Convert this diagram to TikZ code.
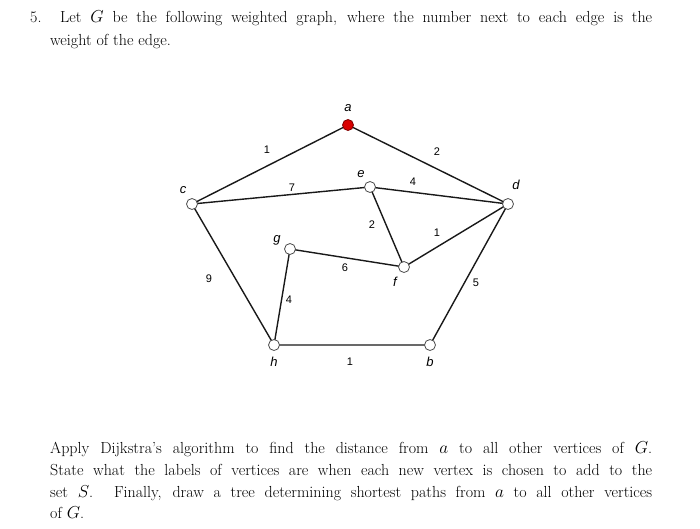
\documentclass[tikz,border=0pt]{standalone}
\usepackage{fontspec}
\newfontfamily\gsans{Liberation Sans}
\begin{document}
\begin{tikzpicture}[x=1pt,y=-1pt,
  vtx/.style={circle,draw=black!70,fill=white,line width=0.8pt,minimum size=11pt,inner sep=0pt},
  edge/.style={line width=1.4pt,black!90},
  wt/.style={font=\gsans\fontsize{11}{12}\selectfont},
  vl/.style={font=\gsans\itshape\fontsize{13}{14}\selectfont},
  tl/.style={anchor=base west,inner sep=0pt,font=\fontsize{16}{22}\selectfont}]
\useasboundingbox (0,0) rectangle (700,528);
\node[tl] (t1) at (30,22) {\makebox[622pt][s]{5. Let $G$ be the following weighted graph, where the number next to each edge is the}};
\node[tl] (t2) at (50,45) {weight of the edge.};
\node[tl] (b1) at (50,453) {\makebox[602pt][s]{Apply Dijkstra's algorithm to find the distance from $a$ to all other vertices of $G$.}};
\node[tl] (b2) at (50,475) {\makebox[602pt][s]{State what the labels of vertices are when each new vertex is chosen to add to the}};
\node[tl] (b3) at (50,497) {\makebox[602pt][s]{set $S$. Finally, draw a tree determining shortest paths from $a$ to all other vertices}};
\node[tl] (b4) at (50,518) {of $G$.};
\coordinate (pa) at (348,125); \coordinate (pc) at (192,204); \coordinate (pe) at (370,187);
\coordinate (pd) at (508,204); \coordinate (pg) at (290,249); \coordinate (pf) at (404,267);
\coordinate (ph) at (274,345); \coordinate (pb) at (430,345);
\draw[edge] (pa)--(pc) (pa)--(pd) (pc)--(pe) (pe)--(pd) (pe)--(pf) (pf)--(pd) (pg)--(pf)
  (pc)--(ph) (pg)--(ph) (pd)--(pb) (ph)--(pb);
\node[vtx,fill=red!85!black,draw=red!50!black] (a) at (pa) {};
\foreach \n in {c,e,d,g,f,h,b} {\node[vtx] (\n) at (p\n) {};}
\node[vl] (la) at (348,108) {a}; \node[vl] (lc) at (183,190) {c};
\node[vl] (le) at (361,174) {e}; \node[vl] (ld) at (516,185) {d};
\node[vl] (lg) at (277,240) {g}; \node[vl] (lf) at (395,282) {f};
\node[vl] (lh) at (274,362) {h}; \node[vl] (lb) at (430,362) {b};
\node[wt] (w1) at (267,150) {1}; \node[wt] (w2) at (437,152) {2};
\node[wt] (w3) at (292,188) {7}; \node[wt] (w4) at (413,182) {4};
\node[wt] (w5) at (372,225) {2}; \node[wt] (w6) at (437,233) {1};
\node[wt] (w7) at (345,268) {6}; \node[wt] (w8) at (209,279) {9};
\node[wt] (w9) at (289,300) {4}; \node[wt] (w10) at (476,283) {5};
\node[wt] (w11) at (350,362) {1};
\end{tikzpicture}
\end{document}
